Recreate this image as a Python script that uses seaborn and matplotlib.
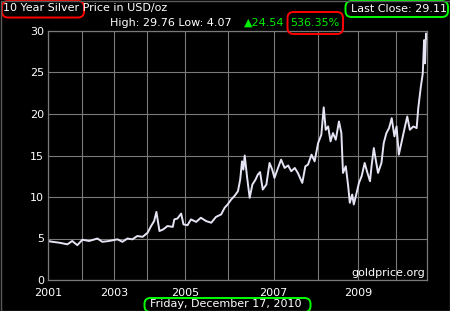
import numpy as np
import matplotlib
matplotlib.use("Agg")
import matplotlib.pyplot as plt
import seaborn as sns
from matplotlib.patches import FancyBboxPatch, Rectangle
from matplotlib.transforms import IdentityTransform

# ---- data ----
years = [2001.00, 2001.13, 2001.32, 2001.57, 2001.71, 2001.86, 2002.01, 2002.22, 2002.48, 2002.63,
         2002.84, 2003.10, 2003.25, 2003.40, 2003.55, 2003.70, 2003.86, 2004.01, 2004.10, 2004.18,
         2004.24, 2004.32, 2004.42, 2004.53, 2004.67, 2004.71, 2004.79, 2004.89, 2004.95, 2005.05,
         2005.13, 2005.25, 2005.36, 2005.48, 2005.60, 2005.71, 2005.83, 2005.91, 2005.98, 2006.06,
         2006.13, 2006.21, 2006.26, 2006.30, 2006.33, 2006.36, 2006.41, 2006.47, 2006.53, 2006.60,
         2006.65, 2006.70, 2006.76, 2006.84, 2006.91, 2006.97, 2007.02, 2007.10, 2007.17, 2007.25,
         2007.33, 2007.40, 2007.48, 2007.55, 2007.65, 2007.72, 2007.78, 2007.86, 2007.93, 2008.01,
         2008.09, 2008.15, 2008.20, 2008.26, 2008.32, 2008.38, 2008.45, 2008.53, 2008.59, 2008.63,
         2008.70, 2008.76, 2008.80, 2008.86, 2008.90, 2008.97, 2009.03, 2009.10, 2009.18, 2009.24,
         2009.32, 2009.36, 2009.42, 2009.47, 2009.53, 2009.62, 2009.68, 2009.75, 2009.82, 2009.89,
         2009.96, 2010.02, 2010.09, 2010.18, 2010.28, 2010.35, 2010.43, 2010.54, 2010.64, 2010.69,
         2010.77, 2010.83, 2010.87, 2010.90, 2010.93, 2010.96]
prices = [4.7, 4.6, 4.5, 4.3, 4.7, 4.2, 4.85, 4.7, 5.0, 4.6,
          4.7, 4.9, 4.6, 5.0, 4.9, 5.3, 5.2, 5.7, 6.5, 7.1,
          8.2, 5.9, 6.1, 6.5, 6.4, 7.3, 7.4, 8.0, 6.7, 6.6,
          7.3, 7.0, 7.5, 7.1, 6.9, 7.6, 7.9, 8.7, 9.1, 9.7,
          10.1, 10.7, 12.1, 14.3, 13.3, 15.0, 12.5, 9.9, 11.5, 12.1,
          12.7, 13.0, 10.9, 11.5, 14.1, 13.3, 12.3, 13.5, 14.5, 13.5,
          13.8, 13.1, 13.5, 12.9, 11.7, 13.7, 13.9, 15.1, 14.3, 16.5,
          17.5, 20.8, 18.1, 18.5, 16.7, 17.7, 16.9, 19.1, 17.7, 12.9,
          13.7, 11.3, 9.3, 10.3, 9.1, 10.5, 11.7, 12.5, 14.1, 13.1,
          11.9, 13.7, 15.9, 14.5, 12.9, 14.1, 16.5, 17.7, 18.3, 19.5,
          17.3, 18.5, 15.1, 16.7, 18.5, 19.7, 18.1, 18.5, 18.3, 20.7,
          23.3, 24.9, 28.9, 26.1, 29.7, 29.11]

grid_years = [2001, 2002, 2003, 2004, 2005, 2006, 2007, 2008, 2009, 2010, 2010.96]
tick_years = [2001, 2003, 2005, 2007, 2009]
tick_labels = ["2001", "2003", "2005", "2007", "2009"]
y_ticks = [0, 5, 10, 15, 20, 25, 30]

title_left = "10 Year Silver Price in USD/oz"
last_close = "Last Close: 29.11"
hl_text = "High: 29.76 Low: 4.07"
change_text = "\u25b224.54"
pct_text = "536.35%"
date_text = "Friday, December 17, 2010"
watermark = "goldprice.org"

# the reference's time axis is not evenly spaced: one segment per year
grid_pos = [49, 83, 115, 148, 186, 229, 274, 318, 358, 396, 427]

def fwd(x):
    return np.interp(x, grid_years, grid_pos)

def inv(p):
    return np.interp(p, grid_pos, grid_years)

# ---- figure ----
sns.set_style("dark")
plt.rcParams['font.family'] = ['DejaVu Sans']
W, H = 450, 311
fig = plt.figure(figsize=(W / 100, H / 100), dpi=100, facecolor="black")

def fx(px):
    return px / W

def fy(py):
    return 1 - py / H

ax = fig.add_axes([fx(48), fy(280), (427 - 48) / W, (280 - 31) / H])
ax.set_facecolor("black")

sns.lineplot(x=years, y=prices, ax=ax, color="#e4e4f4", linewidth=1.4,
             estimator=None, sort=False)

ax.set_xscale("function", functions=(fwd, inv))
ax.set_xlim(2001, 2010.96)
ax.set_ylim(0, 30)
ax.set_xticks(grid_years[:-1])
ax.set_xticklabels([lab if y in tick_years else "" for y, lab in
                    zip(grid_years[:-1], [str(g) for g in grid_years[:-1]])])
ax.set_yticks(y_ticks)
ax.set_yticklabels([str(v) for v in y_ticks])
ax.grid(True, color="#7a7a7a", linewidth=0.8)
ax.tick_params(axis="both", length=0, colors="white", labelsize=8)
ax.tick_params(axis="x", pad=6)
ax.tick_params(axis="y", pad=3)
for s in ax.spines.values():
    s.set_visible(True)
    s.set_color("#7a7a7a")
    s.set_linewidth(0.9)
ax.set_xlabel("")
ax.set_ylabel("")

ax.text(0.995, 0.008, watermark, transform=ax.transAxes, ha="right", va="bottom",
        color="white", fontsize=8)

# ---- header / footer text ----
fs = 8
fig.text(fx(3), fy(8.5), title_left, color="white", fontsize=fs, ha="left", va="center")
fig.text(fx(447), fy(8.5), last_close, color="white", fontsize=fs, ha="right", va="center")
fig.text(fx(110), fy(23), hl_text, color="white", fontsize=fs, ha="left", va="center")
fig.text(fx(244), fy(23), change_text, color="#00ee00", fontsize=fs, ha="left", va="center")
fig.text(fx(290), fy(23), pct_text, color="#00ee00", fontsize=fs, ha="left", va="center")
fig.text(fx(226), fy(304), date_text, color="white", fontsize=fs, ha="center", va="center")

# ---- rounded highlight boxes (pixel coordinates, origin top-left) ----
def rbox(x0, y0, x1, y1, color):
    p = FancyBboxPatch((x0, H - y1), x1 - x0, y1 - y0,
                       boxstyle="round,pad=0,rounding_size=6",
                       transform=IdentityTransform(), fill=False,
                       edgecolor=color, linewidth=1.4)
    fig.patches.append(p)

rbox(2, 1, 84, 17.5, "#ff0000")
rbox(345.5, 1, 448, 17, "#00ff00")
rbox(287.5, 12, 343, 34, "#ff0000")
rbox(144.5, 298, 310.5, 312, "#00ff00")

# outer frame
fig.patches.append(Rectangle((0.5, 0.5), W - 1, H - 1, transform=IdentityTransform(),
                             fill=False, edgecolor="#5a5a5a", linewidth=1))

fig.savefig("out.png", dpi=100, facecolor="black")
